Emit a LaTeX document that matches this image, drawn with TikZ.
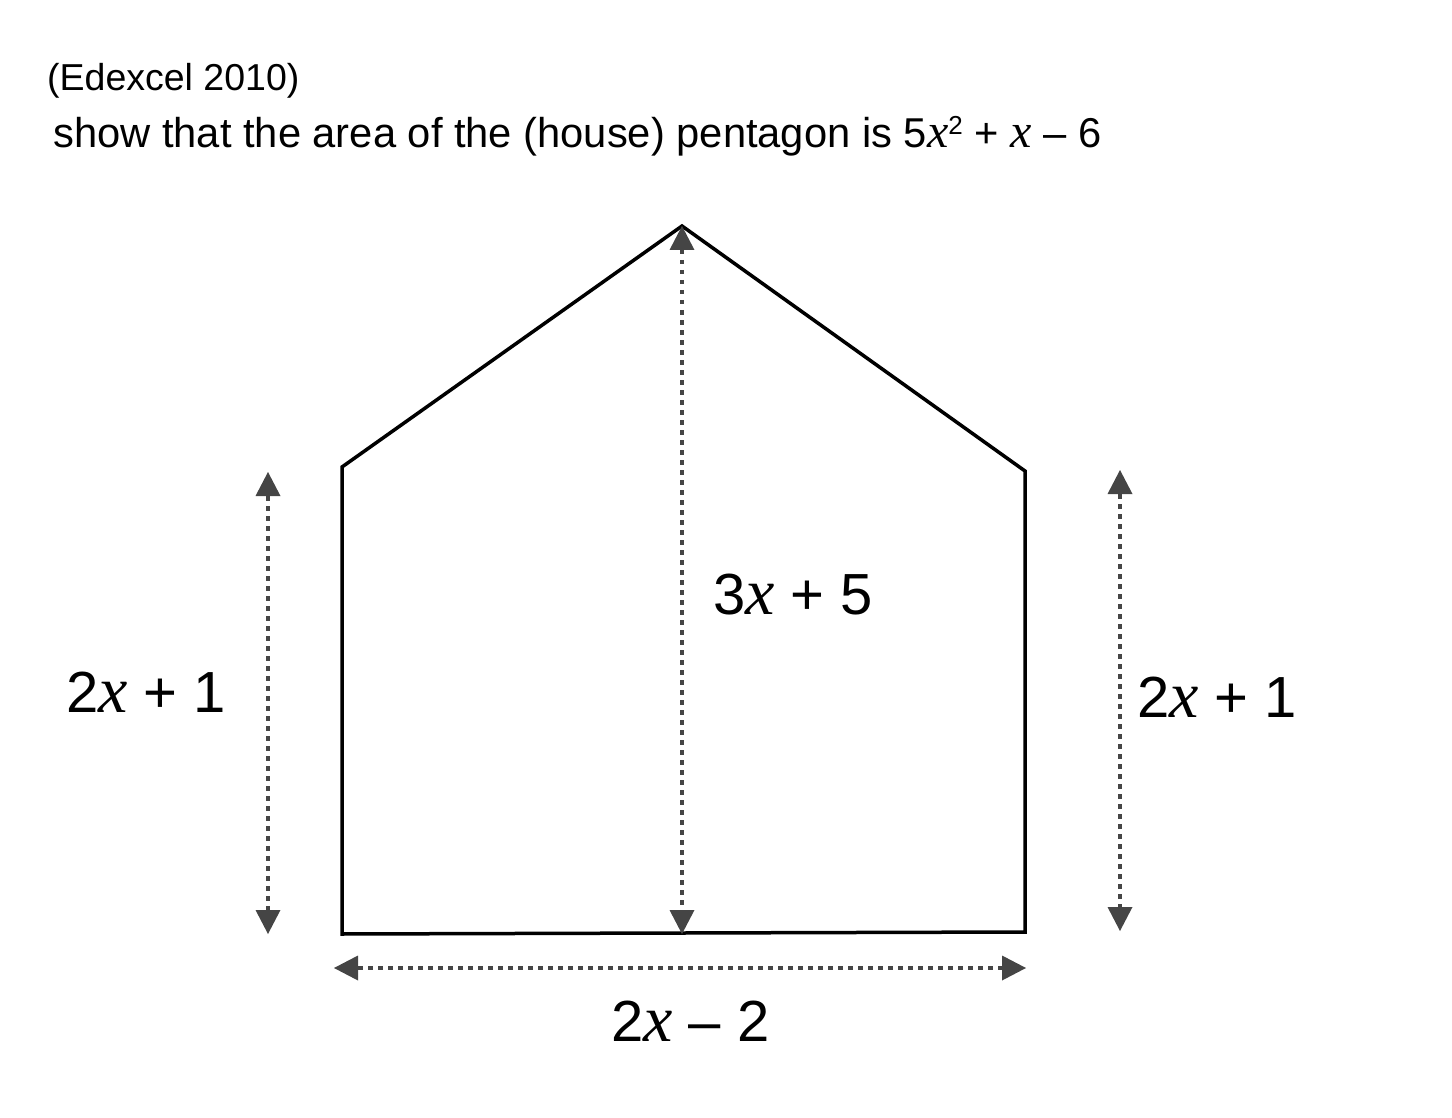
\documentclass[tikz,border=0pt]{standalone}
\usepackage{fontspec}
\setmainfont{Liberation Sans}
\newfontfamily\serifit{Liberation Serif}
\usetikzlibrary{arrows.meta}
\newcommand{\bigx}[1]{{\fontsize{#1}{#1}\selectfont\serifit\itshape x}}
\newcommand{\supii}{\raisebox{13pt}{\fontsize{26}{26}\selectfont 2}}
\begin{document}
\begin{tikzpicture}[x=1pt,y=-1pt,
  houseline/.style={line width=3.5pt,line join=miter},
  dimarrow/.style={draw=black!73,line width=4.5pt,dash pattern=on 4.5pt off 5.5pt,
     {Triangle[length=24pt,width=25pt,fill=black!73,line width=0pt]}-{Triangle[length=24pt,width=25pt,fill=black!73,line width=0pt]},shorten <=0pt,shorten >=0pt},
  dimlabel/.style={inner sep=0pt,anchor=base west,font=\fontsize{58}{66}\selectfont},
  headtext/.style={inner sep=0pt,anchor=base west}]
\useasboundingbox (0,0) rectangle (1452,1118);
\coordinate (top) at (682,226);
\coordinate (sl) at (342,467);
\coordinate (sr) at (1025,471);
\coordinate (bl) at (342,934);
\coordinate (br) at (1025,932);
\draw[houseline] (top) -- (sr) -- (br) -- (bl) -- (sl) -- cycle;
% dimension arrow end points
\coordinate (mt) at (682,226);
\coordinate (mb) at (682,934);
\coordinate (lt) at (268,472);
\coordinate (lb) at (268,934);
\coordinate (rt) at (1120,470);
\coordinate (rb) at (1120,931);
\coordinate (bL) at (334,968);
\coordinate (bR) at (1026,968);
\draw[dimarrow] (mt) -- (mb);
\draw[dimarrow] (lt) -- (lb);
\draw[dimarrow] (rt) -- (rb);
\draw[dimarrow] (bL) -- (bR);
\node[dimlabel] (l1) at (713,614) {3\bigx{66} + 5};
\node[dimlabel] (l2) at (66,712) {2\bigx{66} + 1};
\node[dimlabel] (l3) at (1137,717) {2\bigx{66} + 1};
\node[dimlabel] (l4) at (611,1041) {2\bigx{66} – 2};
\node[headtext,font=\fontsize{37.5}{44}\selectfont] (h1) at (47,91) {(Edexcel 2010)};
\node[headtext,font=\fontsize{41.7}{48}\selectfont] (h2) at (53,148) {show that the area of the (house) pentagon is 5\bigx{48}\supii{} + \bigx{48} – 6};
\end{tikzpicture}
\end{document}
